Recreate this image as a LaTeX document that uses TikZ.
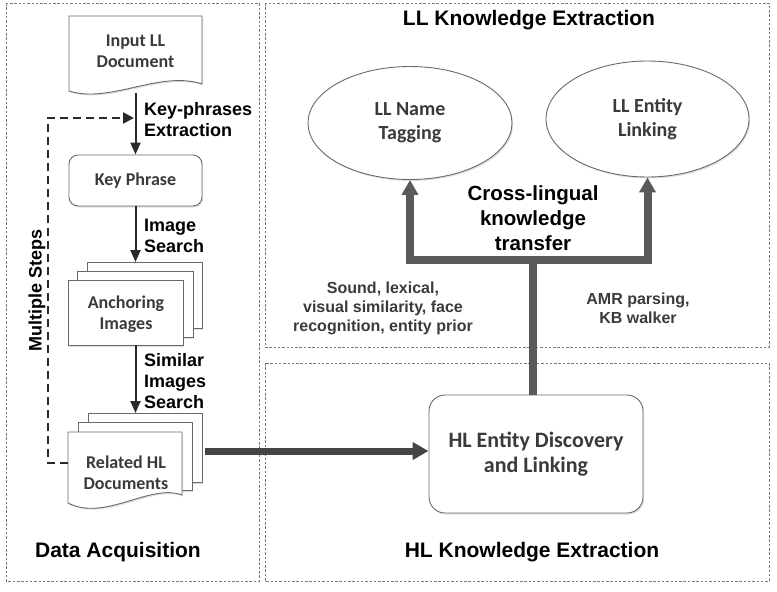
\documentclass[tikz,border=0pt]{standalone}
\usepackage{fontspec}
\setmainfont{Liberation Sans}
\newfontfamily\carl{Carlito}
\usetikzlibrary{arrows.meta,shapes.geometric,shadows}
\definecolor{panelgray}{HTML}{7A7A7A}
\definecolor{linegray}{HTML}{6A6A6A}
\definecolor{txtgray}{HTML}{3A3A3A}
\definecolor{flowblack}{HTML}{2A2A2A}
\definecolor{thickgray}{HTML}{5A5A5A}
\definecolor{thickdark}{HTML}{454545}
\begin{document}
\begin{tikzpicture}[x=1pt,y=-1pt,
  panel/.style={draw=panelgray, line width=0.7pt, dash pattern=on 2.5pt off 1.8pt},
  shp/.style={draw=linegray, line width=0.9pt, fill=white,
    drop shadow={opacity=0.25, shadow xshift=1.2pt, shadow yshift=-1.5pt}},
  doctext/.style={font=\carl\bfseries\fontsize{18}{21}\selectfont, text=txtgray, align=center, inner sep=0pt},
  elltext/.style={font=\carl\bfseries\fontsize{20}{24}\selectfont, text=txtgray, align=center, inner sep=0pt},
  hltext/.style={font=\carl\bfseries\fontsize{22}{25}\selectfont, text=txtgray, align=center, inner sep=0pt},
  steplabel/.style={font=\bfseries\fontsize{18}{21}\selectfont, text=black, align=left, anchor=west, inner sep=0pt},
  title/.style={font=\bfseries\fontsize{21}{24}\selectfont, text=black, inner sep=0pt},
  note/.style={font=\bfseries\fontsize{16}{19}\selectfont, text=txtgray, align=center, inner sep=0pt},
  flow/.style={draw=flowblack, line width=2pt, -{Triangle[length=12pt,width=10pt]}},
  loopline/.style={draw=flowblack, line width=2.2pt, dash pattern=on 8pt off 5pt, -{Triangle[length=11pt,width=11pt]}},
  bigarrow/.style={draw=thickdark, line width=7pt, -{Triangle[length=16pt,width=17pt]}},
  tree/.style={draw=thickgray, line width=8pt, -{Triangle[length=15pt,width=16pt]}}
]
\useasboundingbox (0,0) rectangle (777,592);

% panels
\draw[panel] (6,3) rectangle (259,581);
\draw[panel] (265,3) rectangle (769,347);
\draw[panel] (265,363) rectangle (769,581);

% ---------- Data acquisition ----------
% input document
\path[shp] (69,16) -- (202,16) -- (202,84) .. controls (160,70) and (110,104) .. (69,91) -- cycle;
\node[doctext] (input) at (135.5,51.5) {Input LL\\Document};

% key phrase
\node[shp, rounded corners=9pt, minimum width=133pt, minimum height=51pt, doctext] (key) at (135.5,180.5) {Key Phrase};

% anchoring images stack
\path[shp] (87,262) rectangle (202,328);
\path[shp] (77,271) rectangle (193,337);
\path[shp] (68,280) rectangle (183,345);
\node[doctext] (anch) at (126,314) {Anchoring\\Images};

% related HL documents stack
\path[shp] (88,413) rectangle (202,482);
\path[shp] (78,422) rectangle (192,490);
\path[shp] (68,432) -- (182,432) -- (182,495) .. controls (150,483) and (105,522) .. (68,503) -- cycle;
\node[doctext] (rel) at (126,472.5) {Related HL\\Documents};

% connector points
\coordinate (inputB) at (135.5,93);
\coordinate (anchT) at (135.5,262);
\coordinate (anchB) at (135.5,345);
\coordinate (relT) at (135.5,413);
\coordinate (relR) at (205,451);
\coordinate (relL) at (68,463);
\coordinate (loopE) at (134,118);

\draw[flow] (inputB) -- (key.north);
\draw[flow] (key.south) -- (anchT);
\draw[flow] (anchB) -- (relT);
\draw[loopline] (relL) -- ++(-20,0) |- (loopE);

\node[steplabel] (lbl1) at (144,120) {Key-phrases\\Extraction};
\node[steplabel] (lbl2) at (144,236) {Image\\Search};
\node[steplabel] (lbl3) at (144,381.5) {Similar\\Images\\Search};
\node[font=\bfseries\fontsize{18}{21}\selectfont, rotate=90, inner sep=0pt] (multi) at (37,290) {Multiple Steps};
\node[title] (da) at (118,552) {Data Acquisition};

% ---------- LL knowledge extraction ----------
\node[title] (llke) at (529,20) {LL Knowledge Extraction};
\node[shp, ellipse, minimum width=204pt, minimum height=113pt, inner sep=0pt, elltext] (name) at (410,123) {LL Name\\Tagging};
\node[shp, ellipse, minimum width=203pt, minimum height=116pt, inner sep=0pt, elltext] (link) at (647.5,119) {LL Entity\\Linking};
\node[font=\bfseries\fontsize{20.5}{25}\selectfont, align=center, inner sep=0pt] (cross) at (533,218) {Cross-lingual\\knowledge\\transfer};
\node[note] (sound) at (383,308) {Sound, lexical,\\visual similarity, face\\recognition, entity prior};
\node[note] (amr) at (638,308) {AMR parsing,\\KB walker};

% ---------- HL knowledge extraction ----------
\node[shp, rounded corners=16pt, minimum width=214pt, minimum height=118pt, hltext] (hl) at (536,454) {HL Entity Discovery\\and Linking};
\node[title] (hlke) at (532,552) {HL Knowledge Extraction};

% thick connectors
\draw[bigarrow] (relR) -- (hl.west |- relR);
\coordinate (j) at (533,260);
\draw[tree] (hl.north -| j) -- (j) -| (name.south);
\draw[tree] (hl.north -| j) -- (j) -| (link.south);
\end{tikzpicture}
\end{document}
